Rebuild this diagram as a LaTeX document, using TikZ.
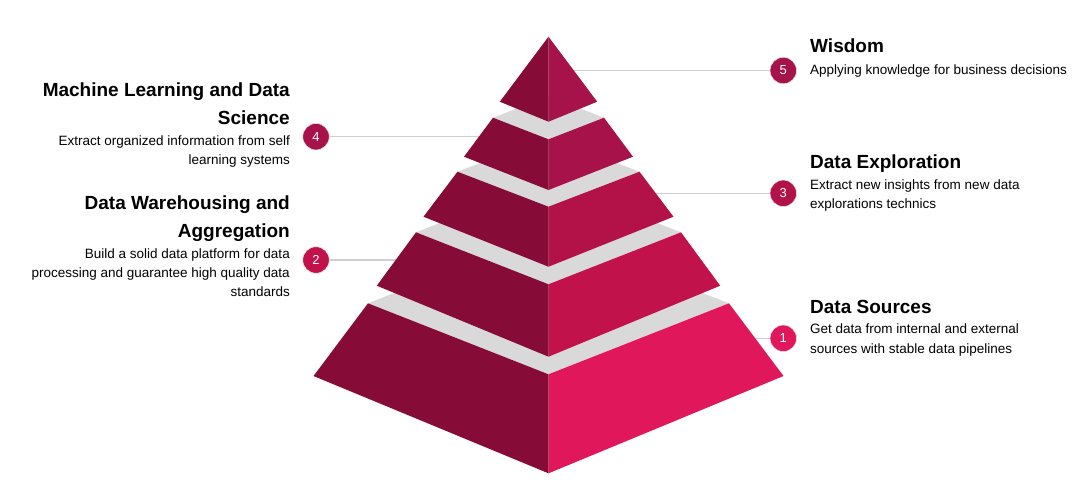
\documentclass[tikz,border=0pt]{standalone}
\usepackage{fontspec}
\setmainfont{Liberation Sans}
\usepackage{tikz}

\definecolor{leftface}{HTML}{860B37}
\definecolor{topface}{HTML}{D9D9D9}
\definecolor{lineclr}{HTML}{CFCFCF}
\definecolor{tone5}{HTML}{A6124A}
\definecolor{tone4}{HTML}{A8124A}
\definecolor{tone3}{HTML}{B31248}
\definecolor{tone2}{HTML}{C2124C}
\definecolor{tone1}{HTML}{E0175A}

\tikzset{
    badge/.style = {circle, minimum size = 26.5pt, inner sep = 0pt, draw = black!12, line width = .6pt, text = white, font = \fontsize{13}{13}\selectfont},
    conn/.style = {color = lineclr, line width = 1.4pt},
    title/.style = {inner sep = 0pt, font = \fontsize{19}{28}\selectfont\bfseries},
    desc/.style = {inner sep = 0pt, font = \fontsize{13.5}{19.3}\selectfont}
}

\begin{document}
\begin{tikzpicture}[x = 1pt, y = -1pt]
        \useasboundingbox (0, 0) rectangle (1090, 488);

        % badges
        \node (n5) at (783.3, 70.5) [badge, fill = tone5] {5};
        \node (n4) at (316, 136.7) [badge, fill = tone4] {4};
        \node (n3) at (783.3, 193.3) [badge, fill = tone3] {3};
        \node (n2) at (316, 260) [badge, fill = tone2] {2};
        \node (n1) at (783.3, 338.3) [badge, fill = tone1] {1};

        % connectors, hidden behind the pyramid
        \coordinate (a5) at (548.5, 70.5);
        \coordinate (a4) at (548.5, 136.7);
        \coordinate (a3) at (548.5, 193.3);
        \coordinate (a2) at (548.5, 260);
        \coordinate (a1) at (548.5, 338.3);
        \draw[conn] (n5) -- (a5);
        \draw[conn] (n4) -- (a4);
        \draw[conn] (n3) -- (a3);
        \draw[conn] (n2) -- (a2);
        \draw[conn] (n1) -- (a1);

        % layer 1
        \fill[topface] (368, 303.3) -- (548.5, 374.3) -- (729, 303.3) -- (548.5, 232.3) -- cycle;
        \fill[leftface] (368, 303.3) -- (548.5, 374.3) -- (548.5, 473.3) -- (313.5, 376) -- cycle;
        \fill[tone1] (729, 303.3) -- (548.5, 374.3) -- (548.5, 473.3) -- (783.5, 376) -- cycle;
        % layer 2
        \fill[topface] (416, 232.3) -- (548.5, 284.3) -- (681, 232.3) -- (548.5, 180.3) -- cycle;
        \fill[leftface] (416, 232.3) -- (548.5, 284.3) -- (548.5, 356.7) -- (376.8, 285.7) -- cycle;
        \fill[tone2] (681, 232.3) -- (548.5, 284.3) -- (548.5, 356.7) -- (720.2, 285.7) -- cycle;
        % layer 3
        \fill[topface] (457.5, 171.7) -- (548.5, 206.7) -- (639.5, 171.7) -- (548.5, 136.7) -- cycle;
        \fill[leftface] (457.5, 171.7) -- (548.5, 206.7) -- (548.5, 266.7) -- (423.5, 216.7) -- cycle;
        \fill[tone3] (639.5, 171.7) -- (548.5, 206.7) -- (548.5, 266.7) -- (673.5, 216.7) -- cycle;
        % layer 4
        \fill[topface] (493, 117.7) -- (548.5, 139.3) -- (604, 117.7) -- (548.5, 96.1) -- cycle;
        \fill[leftface] (493, 117.7) -- (548.5, 139.3) -- (548.5, 190) -- (464, 156.7) -- cycle;
        \fill[tone4] (604, 117.7) -- (548.5, 139.3) -- (548.5, 190) -- (633, 156.7) -- cycle;
        % layer 5
        \fill[leftface] (548.5, 36.7) -- (548.5, 121.7) -- (499.8, 101.7) -- cycle;
        \fill[tone5] (548.5, 36.7) -- (548.5, 121.7) -- (597.2, 101.7) -- cycle;

        % texts on the right (multi-line nodes sit on their last baseline)
        \node (t5) at (810, 52.3) [anchor = base west, title] {Wisdom};
        \node (d5) at (810, 74) [anchor = base west, desc] {Applying knowledge for business decisions};
        \node (t3) at (810, 168.3) [anchor = base west, title] {Data Exploration};
        \node (d3) at (810, 208.6) [anchor = base west, desc, align = left] {Extract new insights from new data\\explorations technics};
        \node (t1) at (810, 313.3) [anchor = base west, title] {Data Sources};
        \node (d1) at (810, 353) [anchor = base west, desc, align = left] {Get data from internal and external\\sources with stable data pipelines};

        % texts on the left
        \node (t4) at (290, 124) [anchor = base east, title, align = right] {Machine Learning and Data\\Science};
        \node (d4) at (290, 164.7) [anchor = base east, desc, align = right] {Extract organized information from self\\learning systems};
        \node (t2) at (290, 237.3) [anchor = base east, title, align = right] {Data Warehousing and\\Aggregation};
        \node (d2) at (290, 296.7) [anchor = base east, desc, align = right] {Build a solid data platform for data\\processing and guarantee high quality data\\standards};
    \end{tikzpicture}
\end{document}
